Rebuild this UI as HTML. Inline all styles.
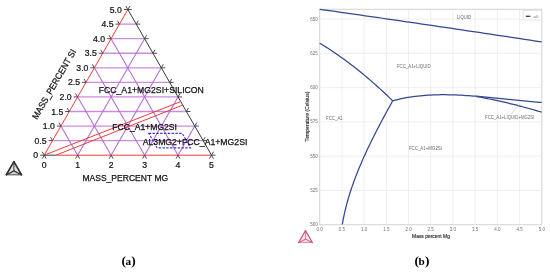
<!DOCTYPE html>
<html><head><meta charset="utf-8"><title>Figure</title>
<style>
html,body{margin:0;padding:0;background:#fff;}
body{width:550px;height:272px;overflow:hidden;}
svg{display:block;}
</style></head>
<body>
<svg width="550" height="272" viewBox="0 0 550 272">
<rect width="550" height="272" fill="#fff"/>
<g><line x1="52.57" y1="140.63" x2="203.13" y2="140.63" stroke="#c98ed9" stroke-width="1.3"/><line x1="60.93" y1="126.07" x2="194.77" y2="126.07" stroke="#c98ed9" stroke-width="1.3"/><line x1="69.3" y1="111.5" x2="186.41" y2="111.5" stroke="#c98ed9" stroke-width="1.3"/><line x1="77.66" y1="96.94" x2="178.04" y2="96.94" stroke="#c98ed9" stroke-width="1.3"/><line x1="86.03" y1="82.37" x2="169.68" y2="82.37" stroke="#c98ed9" stroke-width="1.3"/><line x1="94.39" y1="67.81" x2="161.31" y2="67.81" stroke="#c98ed9" stroke-width="1.3"/><line x1="102.75" y1="53.24" x2="152.94" y2="53.24" stroke="#c98ed9" stroke-width="1.3"/><line x1="111.12" y1="38.68" x2="144.58" y2="38.68" stroke="#c98ed9" stroke-width="1.3"/><line x1="119.48" y1="24.11" x2="136.22" y2="24.11" stroke="#c98ed9" stroke-width="1.3"/><line x1="77.66" y1="155.2" x2="144.58" y2="38.68" stroke="#b56ed6" stroke-width="1.1"/><line x1="60.93" y1="126.07" x2="77.66" y2="155.2" stroke="#b56ed6" stroke-width="1.1"/><line x1="111.12" y1="155.2" x2="161.31" y2="67.81" stroke="#b56ed6" stroke-width="1.1"/><line x1="77.66" y1="96.94" x2="111.12" y2="155.2" stroke="#b56ed6" stroke-width="1.1"/><line x1="144.58" y1="155.2" x2="178.04" y2="96.94" stroke="#b56ed6" stroke-width="1.1"/><line x1="94.39" y1="67.81" x2="144.58" y2="155.2" stroke="#b56ed6" stroke-width="1.1"/><line x1="178.04" y1="155.2" x2="194.77" y2="126.07" stroke="#b56ed6" stroke-width="1.1"/><line x1="111.12" y1="38.68" x2="178.04" y2="155.2" stroke="#b56ed6" stroke-width="1.1"/></g><line x1="211.5" y1="155.2" x2="127.85" y2="9.55" stroke="#3a3a3a" stroke-width="1"/><line x1="44.2" y1="155.2" x2="55.91" y2="155.2" stroke="#3a3a3a" stroke-width="1"/><line x1="55.91" y1="155.2" x2="211.5" y2="155.2" stroke="#f03c3c" stroke-width="1.0"/><line x1="44.2" y1="155.2" x2="127.85" y2="9.55" stroke="#f03c3c" stroke-width="1.0"/><line x1="44.2" y1="155.2" x2="180.72" y2="101.6" stroke="#f03c3c" stroke-width="1.0"/><line x1="55.91" y1="155.2" x2="182.72" y2="105.1" stroke="#f03c3c" stroke-width="1.0"/><g><line x1="40.2" y1="155.2" x2="44.2" y2="155.2" stroke="#3a3a3a" stroke-width="0.9"/><line x1="44.2" y1="155.2" x2="42.2" y2="151.74" stroke="#3a3a3a" stroke-width="0.9"/><line x1="211.5" y1="155.2" x2="215.5" y2="155.2" stroke="#3a3a3a" stroke-width="0.9"/><line x1="211.5" y1="155.2" x2="213.5" y2="151.74" stroke="#3a3a3a" stroke-width="0.9"/><line x1="48.57" y1="140.63" x2="52.57" y2="140.63" stroke="#3a3a3a" stroke-width="0.9"/><line x1="52.57" y1="140.63" x2="50.57" y2="137.17" stroke="#3a3a3a" stroke-width="0.9"/><line x1="203.13" y1="140.63" x2="207.13" y2="140.63" stroke="#3a3a3a" stroke-width="0.9"/><line x1="203.13" y1="140.63" x2="205.13" y2="137.17" stroke="#3a3a3a" stroke-width="0.9"/><line x1="56.93" y1="126.07" x2="60.93" y2="126.07" stroke="#3a3a3a" stroke-width="0.9"/><line x1="60.93" y1="126.07" x2="58.93" y2="122.61" stroke="#3a3a3a" stroke-width="0.9"/><line x1="194.77" y1="126.07" x2="198.77" y2="126.07" stroke="#3a3a3a" stroke-width="0.9"/><line x1="194.77" y1="126.07" x2="196.77" y2="122.61" stroke="#3a3a3a" stroke-width="0.9"/><line x1="65.3" y1="111.5" x2="69.3" y2="111.5" stroke="#3a3a3a" stroke-width="0.9"/><line x1="69.3" y1="111.5" x2="67.3" y2="108.04" stroke="#3a3a3a" stroke-width="0.9"/><line x1="186.41" y1="111.5" x2="190.41" y2="111.5" stroke="#3a3a3a" stroke-width="0.9"/><line x1="186.41" y1="111.5" x2="188.41" y2="108.04" stroke="#3a3a3a" stroke-width="0.9"/><line x1="73.66" y1="96.94" x2="77.66" y2="96.94" stroke="#3a3a3a" stroke-width="0.9"/><line x1="77.66" y1="96.94" x2="75.66" y2="93.48" stroke="#3a3a3a" stroke-width="0.9"/><line x1="178.04" y1="96.94" x2="182.04" y2="96.94" stroke="#3a3a3a" stroke-width="0.9"/><line x1="178.04" y1="96.94" x2="180.04" y2="93.48" stroke="#3a3a3a" stroke-width="0.9"/><line x1="82.03" y1="82.37" x2="86.03" y2="82.37" stroke="#3a3a3a" stroke-width="0.9"/><line x1="86.03" y1="82.37" x2="84.03" y2="78.91" stroke="#3a3a3a" stroke-width="0.9"/><line x1="169.68" y1="82.37" x2="173.68" y2="82.37" stroke="#3a3a3a" stroke-width="0.9"/><line x1="169.68" y1="82.37" x2="171.68" y2="78.91" stroke="#3a3a3a" stroke-width="0.9"/><line x1="90.39" y1="67.81" x2="94.39" y2="67.81" stroke="#3a3a3a" stroke-width="0.9"/><line x1="94.39" y1="67.81" x2="92.39" y2="64.35" stroke="#3a3a3a" stroke-width="0.9"/><line x1="161.31" y1="67.81" x2="165.31" y2="67.81" stroke="#3a3a3a" stroke-width="0.9"/><line x1="161.31" y1="67.81" x2="163.31" y2="64.35" stroke="#3a3a3a" stroke-width="0.9"/><line x1="98.75" y1="53.24" x2="102.75" y2="53.24" stroke="#3a3a3a" stroke-width="0.9"/><line x1="102.75" y1="53.24" x2="100.75" y2="49.78" stroke="#3a3a3a" stroke-width="0.9"/><line x1="152.94" y1="53.24" x2="156.94" y2="53.24" stroke="#3a3a3a" stroke-width="0.9"/><line x1="152.94" y1="53.24" x2="154.94" y2="49.78" stroke="#3a3a3a" stroke-width="0.9"/><line x1="107.12" y1="38.68" x2="111.12" y2="38.68" stroke="#3a3a3a" stroke-width="0.9"/><line x1="111.12" y1="38.68" x2="109.12" y2="35.22" stroke="#3a3a3a" stroke-width="0.9"/><line x1="144.58" y1="38.68" x2="148.58" y2="38.68" stroke="#3a3a3a" stroke-width="0.9"/><line x1="144.58" y1="38.68" x2="146.58" y2="35.22" stroke="#3a3a3a" stroke-width="0.9"/><line x1="115.48" y1="24.11" x2="119.48" y2="24.11" stroke="#3a3a3a" stroke-width="0.9"/><line x1="119.48" y1="24.11" x2="117.48" y2="20.65" stroke="#3a3a3a" stroke-width="0.9"/><line x1="136.22" y1="24.11" x2="140.22" y2="24.11" stroke="#3a3a3a" stroke-width="0.9"/><line x1="136.22" y1="24.11" x2="138.22" y2="20.65" stroke="#3a3a3a" stroke-width="0.9"/><line x1="123.85" y1="9.55" x2="127.85" y2="9.55" stroke="#3a3a3a" stroke-width="0.9"/><line x1="127.85" y1="9.55" x2="125.85" y2="6.09" stroke="#3a3a3a" stroke-width="0.9"/><line x1="127.85" y1="9.55" x2="131.85" y2="9.55" stroke="#3a3a3a" stroke-width="0.9"/><line x1="127.85" y1="9.55" x2="129.85" y2="6.09" stroke="#3a3a3a" stroke-width="0.9"/><line x1="44.2" y1="155.2" x2="42.2" y2="158.66" stroke="#3a3a3a" stroke-width="0.9"/><line x1="44.2" y1="155.2" x2="46.2" y2="158.66" stroke="#3a3a3a" stroke-width="0.9"/><line x1="77.66" y1="155.2" x2="75.66" y2="158.66" stroke="#3a3a3a" stroke-width="0.9"/><line x1="77.66" y1="155.2" x2="79.66" y2="158.66" stroke="#3a3a3a" stroke-width="0.9"/><line x1="111.12" y1="155.2" x2="109.12" y2="158.66" stroke="#3a3a3a" stroke-width="0.9"/><line x1="111.12" y1="155.2" x2="113.12" y2="158.66" stroke="#3a3a3a" stroke-width="0.9"/><line x1="144.58" y1="155.2" x2="142.58" y2="158.66" stroke="#3a3a3a" stroke-width="0.9"/><line x1="144.58" y1="155.2" x2="146.58" y2="158.66" stroke="#3a3a3a" stroke-width="0.9"/><line x1="178.04" y1="155.2" x2="176.04" y2="158.66" stroke="#3a3a3a" stroke-width="0.9"/><line x1="178.04" y1="155.2" x2="180.04" y2="158.66" stroke="#3a3a3a" stroke-width="0.9"/><line x1="211.5" y1="155.2" x2="209.5" y2="158.66" stroke="#3a3a3a" stroke-width="0.9"/><line x1="211.5" y1="155.2" x2="213.5" y2="158.66" stroke="#3a3a3a" stroke-width="0.9"/></g><polygon points="148.76,133.35 182.22,133.35 190.59,147.92 157.13,147.92" fill="none" stroke="#3636e0" stroke-width="1.1" stroke-dasharray="2.4,1.4"/><g font-size="8.7" fill="#111" stroke="#111" stroke-width="0.22" font-family="'Liberation Sans',Arial,sans-serif"><text x="38.2" y="158.3" text-anchor="end">0</text><text x="46.57" y="143.73" text-anchor="end">0.5</text><text x="54.93" y="129.17" text-anchor="end">1.0</text><text x="63.3" y="114.6" text-anchor="end">1.5</text><text x="71.66" y="100.04" text-anchor="end">2.0</text><text x="80.03" y="85.47" text-anchor="end">2.5</text><text x="88.39" y="70.91" text-anchor="end">3.0</text><text x="96.75" y="56.34" text-anchor="end">3.5</text><text x="105.12" y="41.78" text-anchor="end">4.0</text><text x="113.48" y="27.21" text-anchor="end">4.5</text><text x="121.85" y="12.65" text-anchor="end">5.0</text><text x="44.2" y="167.5" text-anchor="middle">0</text><text x="77.66" y="167.5" text-anchor="middle">1</text><text x="111.12" y="167.5" text-anchor="middle">2</text><text x="144.58" y="167.5" text-anchor="middle">3</text><text x="178.04" y="167.5" text-anchor="middle">4</text><text x="211.5" y="167.5" text-anchor="middle">5</text></g><g font-size="9.0" fill="#111" stroke="#111" stroke-width="0.25" font-family="'Liberation Sans',Arial,sans-serif"><text x="98.7" y="92.5" textLength="105.2" lengthAdjust="spacingAndGlyphs">FCC_A1+MG2SI+SILICON</text><text x="112.3" y="130.2" textLength="64.7" lengthAdjust="spacingAndGlyphs">FCC_A1+MG2SI</text><text x="142.7" y="144.8" textLength="104.7" lengthAdjust="spacingAndGlyphs">AL3MG2+FCC_A1+MG2SI</text><text x="82.4" y="180.5" textLength="85.8" lengthAdjust="spacingAndGlyphs">MASS_PERCENT MG</text><text transform="translate(36.9,120.0) rotate(-60)" x="0" y="0" textLength="79" lengthAdjust="spacingAndGlyphs">MASS_PERCENT SI</text></g><path d="M13.9,161.6 L6.3,174.76 L13.9,170.81 Z" fill="#e2e2e2"/><path d="M13.9,161.6 L21.5,174.76 L13.9,170.81 Z" fill="#e2e2e2"/><path d="M6.3,174.76 Q10.56,172.92 13.9,170.81 L13.9,170.81 Q17.24,172.92 21.5,174.76 Z" fill="#cfcfcf"/><path d="M6.3,174.76 L21.5,174.76" stroke="#6a6a6a" stroke-width="1.2800000000000002"/><path d="M13.9,161.6 L13.9,170.81" stroke="#6a6a6a" stroke-width="1.4400000000000002" stroke-linecap="round"/><path d="M6.3,174.76 L13.9,161.6 L21.5,174.76" fill="none" stroke="#2e2e2e" stroke-width="1.6" stroke-linejoin="round" stroke-linecap="round"/><path d="M6.3,174.76 Q10.56,172.92 13.9,170.81 Q17.24,172.92 21.5,174.76" stroke="#2e2e2e" stroke-width="1.2800000000000002" fill="none" stroke-linecap="round"/>
<g><line x1="341.91" y1="9.3" x2="341.91" y2="224.7" stroke="#e8e8e8" stroke-width="0.7"/><line x1="364.12" y1="9.3" x2="364.12" y2="224.7" stroke="#e8e8e8" stroke-width="0.7"/><line x1="386.33" y1="9.3" x2="386.33" y2="224.7" stroke="#e8e8e8" stroke-width="0.7"/><line x1="408.54" y1="9.3" x2="408.54" y2="224.7" stroke="#e8e8e8" stroke-width="0.7"/><line x1="430.75" y1="9.3" x2="430.75" y2="224.7" stroke="#e8e8e8" stroke-width="0.7"/><line x1="452.96" y1="9.3" x2="452.96" y2="224.7" stroke="#e8e8e8" stroke-width="0.7"/><line x1="475.17" y1="9.3" x2="475.17" y2="224.7" stroke="#e8e8e8" stroke-width="0.7"/><line x1="497.38" y1="9.3" x2="497.38" y2="224.7" stroke="#e8e8e8" stroke-width="0.7"/><line x1="519.59" y1="9.3" x2="519.59" y2="224.7" stroke="#e8e8e8" stroke-width="0.7"/><line x1="319.7" y1="190.43" x2="541.8" y2="190.43" stroke="#e8e8e8" stroke-width="0.7"/><line x1="319.7" y1="156.17" x2="541.8" y2="156.17" stroke="#e8e8e8" stroke-width="0.7"/><line x1="319.7" y1="121.9" x2="541.8" y2="121.9" stroke="#e8e8e8" stroke-width="0.7"/><line x1="319.7" y1="87.63" x2="541.8" y2="87.63" stroke="#e8e8e8" stroke-width="0.7"/><line x1="319.7" y1="53.37" x2="541.8" y2="53.37" stroke="#e8e8e8" stroke-width="0.7"/><line x1="319.7" y1="19.1" x2="541.8" y2="19.1" stroke="#e8e8e8" stroke-width="0.7"/></g><line x1="319.7" y1="9.3" x2="319.7" y2="224.7" stroke="#c8c8c8" stroke-width="0.8"/><line x1="319.7" y1="224.7" x2="541.8" y2="224.7" stroke="#c8c8c8" stroke-width="0.8"/><line x1="319.7" y1="9.3" x2="541.8" y2="9.3" stroke="#c8c8c8" stroke-width="0.8"/><line x1="541.8" y1="9.3" x2="541.8" y2="224.7" stroke="#dadada" stroke-width="1.2"/><g font-size="4.5" fill="#707070" font-family="'Liberation Sans',Arial,sans-serif"><text x="317.8" y="226.2" text-anchor="end">500</text><text x="317.8" y="191.93" text-anchor="end">525</text><text x="317.8" y="157.67" text-anchor="end">550</text><text x="317.8" y="123.4" text-anchor="end">575</text><text x="317.8" y="89.13" text-anchor="end">600</text><text x="317.8" y="54.87" text-anchor="end">625</text><text x="317.8" y="20.6" text-anchor="end">650</text><text x="319.7" y="231.0" text-anchor="middle">0.0</text><text x="341.91" y="231.0" text-anchor="middle">0.5</text><text x="364.12" y="231.0" text-anchor="middle">1.0</text><text x="386.33" y="231.0" text-anchor="middle">1.5</text><text x="408.54" y="231.0" text-anchor="middle">2.0</text><text x="430.75" y="231.0" text-anchor="middle">2.5</text><text x="452.96" y="231.0" text-anchor="middle">3.0</text><text x="475.17" y="231.0" text-anchor="middle">3.5</text><text x="497.38" y="231.0" text-anchor="middle">4.0</text><text x="519.59" y="231.0" text-anchor="middle">4.5</text><text x="541.8" y="231.0" text-anchor="middle">5.0</text></g><path d="M319.7,9.3 L325.39,10.1 L331.08,10.91 L336.77,11.72 L342.46,12.53 L348.15,13.34 L353.84,14.15 L359.53,14.97 L365.22,15.79 L370.91,16.6 L376.6,17.42 L382.29,18.25 L387.98,19.07 L393.67,19.89 L399.36,20.72 L405.05,21.55 L410.74,22.38 L416.43,23.21 L422.12,24.04 L427.81,24.88 L433.49,25.71 L439.18,26.55 L444.87,27.39 L450.56,28.23 L456.25,29.07 L461.94,29.92 L467.63,30.76 L473.32,31.61 L479.01,32.46 L484.7,33.31 L490.39,34.16 L496.08,35.01 L501.77,35.87 L507.46,36.73 L513.15,37.58 L518.84,38.44 L524.53,39.31 L530.22,40.17 L535.91,41.03 L541.6,41.9" fill="none" stroke="#324793" stroke-width="1.25" stroke-linejoin="round"/><path d="M319.7,43.19 L321.57,44.33 L323.44,45.48 L325.31,46.65 L327.18,47.84 L329.05,49.05 L330.92,50.28 L332.78,51.52 L334.65,52.78 L336.52,54.06 L338.39,55.36 L340.26,56.67 L342.13,58.01 L344,59.36 L345.87,60.72 L347.74,62.11 L349.61,63.51 L351.48,64.93 L353.35,66.37 L355.22,67.83 L357.08,69.31 L358.95,70.8 L360.82,72.31 L362.69,73.84 L364.56,75.38 L366.43,76.95 L368.3,78.53 L370.17,80.13 L372.04,81.74 L373.91,83.38 L375.78,85.03 L377.65,86.7 L379.52,88.39 L381.38,90.1 L383.25,91.82 L385.12,93.56 L386.99,95.32 L388.86,97.1 L390.73,98.89 L392.6,100.7" fill="none" stroke="#324793" stroke-width="1.25" stroke-linejoin="round"/><path d="M392.73,100.8 L390.97,103.97 L389.21,107.14 L387.47,110.31 L385.74,113.48 L384.03,116.65 L382.33,119.82 L380.64,122.98 L378.98,126.15 L377.33,129.32 L375.7,132.49 L374.09,135.66 L372.51,138.83 L370.95,142 L369.41,145.17 L367.9,148.34 L366.41,151.51 L364.96,154.68 L363.53,157.85 L362.13,161.02 L360.77,164.18 L359.43,167.35 L358.13,170.52 L356.87,173.69 L355.64,176.86 L354.45,180.03 L353.3,183.2 L352.18,186.37 L351.11,189.54 L350.08,192.71 L349.09,195.88 L348.15,199.05 L347.25,202.22 L346.4,205.38 L345.6,208.55 L344.84,211.72 L344.14,214.89 L343.48,218.06 L342.88,221.23 L342.33,224.4" fill="none" stroke="#324793" stroke-width="1.25" stroke-linejoin="round"/><path d="M392.6,100.87 L395.13,100.19 L397.65,99.55 L400.18,98.97 L402.7,98.43 L405.23,97.93 L407.75,97.47 L410.28,97.06 L412.8,96.68 L415.33,96.34 L417.85,96.04 L420.38,95.77 L422.91,95.53 L425.43,95.33 L427.96,95.16 L430.48,95.02 L433.01,94.91 L435.53,94.82 L438.06,94.76 L440.58,94.73 L443.11,94.72 L445.63,94.73 L448.16,94.76 L450.68,94.82 L453.21,94.89 L455.74,94.98 L458.26,95.09 L460.79,95.21 L463.31,95.35 L465.84,95.51 L468.36,95.67 L470.89,95.85 L473.41,96.04 L475.94,96.24 L478.46,96.45 L480.99,96.67 L483.52,96.89 L486.04,97.12 L488.57,97.36 L491.09,97.6 L493.62,97.85 L496.14,98.1 L498.67,98.35 L501.19,98.61 L503.72,98.87 L506.24,99.12 L508.77,99.38 L511.29,99.64 L513.82,99.89 L516.35,100.15 L518.87,100.4 L521.4,100.65 L523.92,100.89 L526.45,101.14 L528.97,101.37 L531.5,101.6 L534.02,101.83 L536.55,102.05 L539.07,102.26 L541.6,102.47" fill="none" stroke="#324793" stroke-width="1.25" stroke-linejoin="round"/><path d="M476,96.43 L478.26,96.83 L480.52,97.24 L482.79,97.67 L485.05,98.1 L487.31,98.54 L489.57,98.99 L491.83,99.46 L494.1,99.93 L496.36,100.41 L498.62,100.9 L500.88,101.41 L503.14,101.92 L505.41,102.44 L507.67,102.98 L509.93,103.52 L512.19,104.07 L514.46,104.64 L516.72,105.21 L518.98,105.8 L521.24,106.39 L523.5,106.99 L525.77,107.61 L528.03,108.23 L530.29,108.87 L532.55,109.51 L534.81,110.17 L537.08,110.83 L539.34,111.51 L541.6,112.19" fill="none" stroke="#324793" stroke-width="1.25" stroke-linejoin="round"/><line x1="511" y1="114.2" x2="520" y2="103.8" stroke="#aaaaaa" stroke-width="0.5"/><g font-size="4.8" fill="#6c6c6c" font-family="'Liberation Sans',Arial,sans-serif"><text x="457" y="19.1" textLength="14.1" lengthAdjust="spacingAndGlyphs">LIQUID</text><text x="396.9" y="68.3" textLength="33.8" lengthAdjust="spacingAndGlyphs">FCC_A1+LIQUID</text><text x="326" y="119.8" textLength="16.8" lengthAdjust="spacingAndGlyphs">FCC_A1</text><text x="485" y="118.9" textLength="49.4" lengthAdjust="spacingAndGlyphs">FCC_A1+LIQUID+MG2SI</text><text x="408.9" y="150.0" textLength="33.1" lengthAdjust="spacingAndGlyphs">FCC_A1+MG2SI</text></g><text x="412" y="237.5" font-size="5.2" fill="#222" stroke="#222" stroke-width="0.12" font-family="'Liberation Sans',Arial,sans-serif" textLength="38" lengthAdjust="spacingAndGlyphs">Mass percent Mg</text><text transform="translate(309.4,116.5) rotate(-90)" x="-24.9" y="0" font-size="5.2" fill="#222" stroke="#222" stroke-width="0.12" textLength="49.8" lengthAdjust="spacingAndGlyphs" font-family="'Liberation Sans',Arial,sans-serif">Temperature (Celsius)</text><rect x="523.1" y="10.3" width="18.6" height="9.7" fill="#fff" stroke="#d4d4d4" stroke-width="0.6"/><line x1="525.8" y1="16.3" x2="530.4" y2="16.3" stroke="#283878" stroke-width="1.3"/><text x="533.6" y="17.6" font-size="4.4" fill="#777" font-family="'Liberation Sans',Arial,sans-serif">a0</text><path d="M305.5,230.6 L298.6,242.55 L305.5,238.97 Z" fill="#f8e6ee"/><path d="M305.5,230.6 L312.4,242.55 L305.5,238.97 Z" fill="#f8e6ee"/><path d="M298.6,242.55 Q302.46,240.88 305.5,238.97 L305.5,238.97 Q308.54,240.88 312.4,242.55 Z" fill="#f1d2df"/><path d="M298.6,242.55 L312.4,242.55" stroke="#dc8aa9" stroke-width="0.9199999999999999"/><path d="M305.5,230.6 L305.5,238.97" stroke="#dc8aa9" stroke-width="1.035" stroke-linecap="round"/><path d="M298.6,242.55 L305.5,230.6 L312.4,242.55" fill="none" stroke="#cf4a7d" stroke-width="1.15" stroke-linejoin="round" stroke-linecap="round"/><path d="M298.6,242.55 Q302.46,240.88 305.5,238.97 Q308.54,240.88 312.4,242.55" stroke="#cf4a7d" stroke-width="0.9199999999999999" fill="none" stroke-linecap="round"/>
<text x="121.4" y="265.3" font-size="13.4" font-family="'Liberation Serif','Times New Roman',serif" font-weight="bold" fill="#000">(</text><text x="125.4" y="264.8" font-size="11.2" font-family="'Liberation Serif','Times New Roman',serif" font-weight="bold" fill="#000">a</text><text x="131.2" y="265.3" font-size="13.4" font-family="'Liberation Serif','Times New Roman',serif" font-weight="bold" fill="#000">)</text><text x="414.6" y="265.3" font-size="13.4" font-family="'Liberation Serif','Times New Roman',serif" font-weight="bold" fill="#000">(</text><text x="418.6" y="264.8" font-size="11.2" font-family="'Liberation Serif','Times New Roman',serif" font-weight="bold" fill="#000">b</text><text x="425" y="265.3" font-size="13.4" font-family="'Liberation Serif','Times New Roman',serif" font-weight="bold" fill="#000">)</text>
</svg>
</body></html>
